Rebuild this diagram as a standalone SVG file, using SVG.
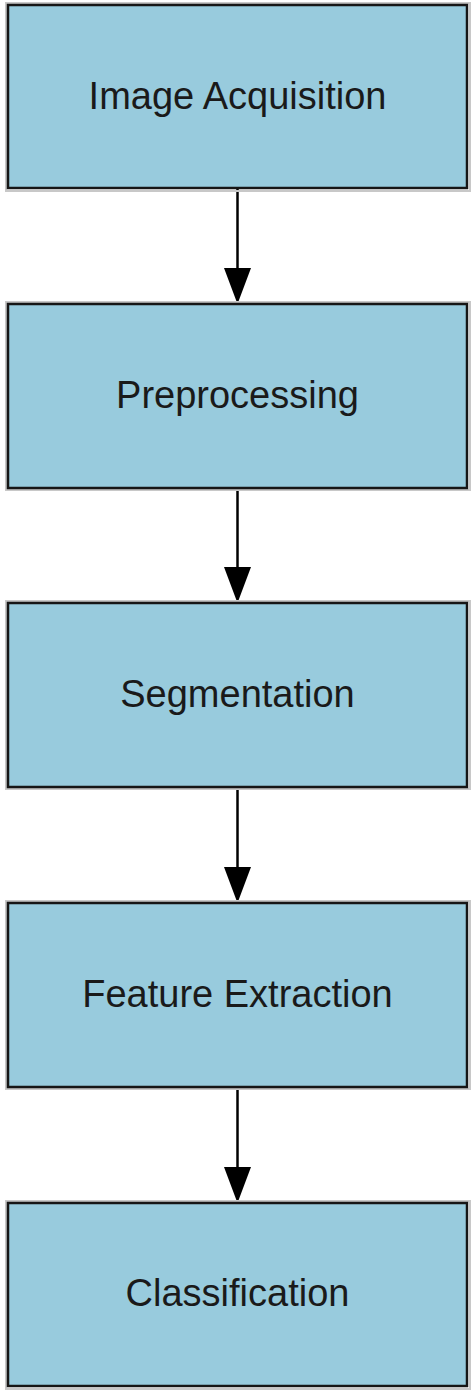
<svg xmlns="http://www.w3.org/2000/svg" width="472" height="1391" viewBox="0 0 472 1391">
<defs>
<style>
.box{fill:#98cbdd;stroke:#161616;stroke-width:2.5}
.sh{fill:none;stroke:#c8c8c8;stroke-width:2}
.lbl{font-family:"Liberation Sans",Arial,sans-serif;font-size:38px;fill:#1a1a1a;text-anchor:middle}
.edge{stroke:#000;stroke-width:2.5;fill:none}
.head{fill:#000}
</style>
</defs>
<rect width="472" height="1391" fill="#fff"/>
<g id="connectors">
<line class="edge" x1="237.5" y1="188" x2="237.5" y2="272"/>
<polygon class="head" points="224,268 251,268 237.5,304"/>
<line class="edge" x1="237.5" y1="488" x2="237.5" y2="571"/>
<polygon class="head" points="224,567 251,567 237.5,603"/>
<line class="edge" x1="237.5" y1="787" x2="237.5" y2="871"/>
<polygon class="head" points="224,867 251,867 237.5,903"/>
<line class="edge" x1="237.5" y1="1087" x2="237.5" y2="1171"/>
<polygon class="head" points="224,1167 251,1167 237.5,1203"/>
</g>
<g id="n1">
<rect class="sh" x="6" y="3" width="464" height="188"/>
<rect class="box" x="8" y="5" width="459" height="183"/>
<text class="lbl" x="237.5" y="109">Image Acquisition</text>
</g>
<g id="n2">
<rect class="sh" x="6" y="302" width="464" height="188"/>
<rect class="box" x="8" y="304" width="459" height="184"/>
<text class="lbl" x="237.5" y="408">Preprocessing</text>
</g>
<g id="n3">
<rect class="sh" x="6" y="601" width="464" height="188"/>
<rect class="box" x="8" y="603" width="459" height="184"/>
<text class="lbl" x="237.5" y="707">Segmentation</text>
</g>
<g id="n4">
<rect class="sh" x="6" y="901" width="464" height="188"/>
<rect class="box" x="8" y="903" width="459" height="184"/>
<text class="lbl" x="237.5" y="1007">Feature Extraction</text>
</g>
<g id="n5">
<rect class="sh" x="6" y="1201" width="464" height="188"/>
<rect class="box" x="8" y="1203" width="459" height="183"/>
<text class="lbl" x="237.5" y="1306">Classification</text>
</g>
</svg>
